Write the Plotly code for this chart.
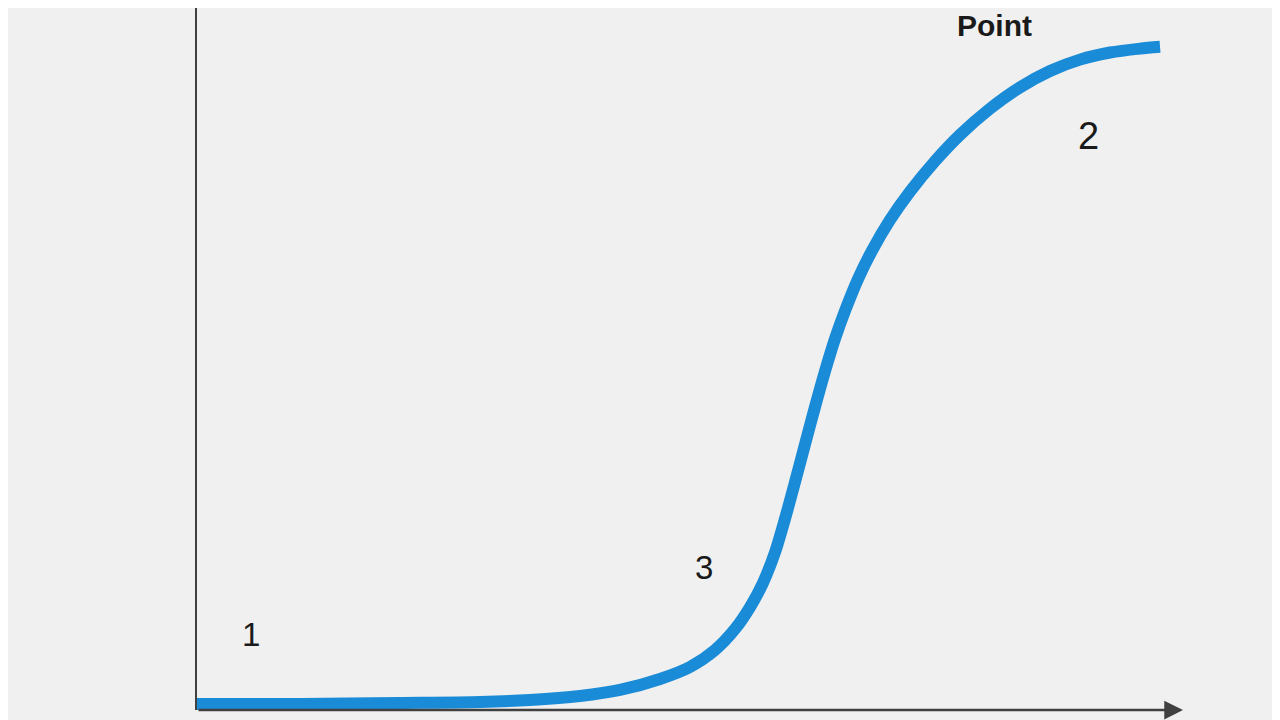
import plotly.graph_objects as go

# S-curve (x and y in 0-100 axis units)
curve_x = [0, 10.45, 20.59, 28.70, 33.77, 38.84, 42.90, 46.96, 50.00, 52.54,
           54.56, 56.09, 57.40, 58.62, 59.63, 60.65, 61.66, 62.68, 63.69, 64.71,
           65.72, 67.04, 68.46, 70.28, 72.31, 74.85, 77.38, 80.43, 83.47, 86.51,
           89.55, 92.60, 95.64, 97.67]
curve_y = [0.85, 0.85, 0.99, 1.13, 1.41, 1.97, 2.82, 4.37, 6.06, 8.45,
           11.4, 14.5, 17.9, 22.2, 26.9, 32.11, 37.4, 42.7, 47.7, 52.3,
           56.2, 60.7, 64.7, 69.0, 73.0, 77.3, 81.0, 84.7, 87.7, 90.0,
           91.6, 92.6, 93.15, 93.4]

# text labels on the chart
label_text = ["1", "3", "2"]
label_x = [5.5, 51.4, 90.4]
label_y = [10.6, 20.1, 80.8]
label_size = [33, 33, 38]

fig = go.Figure()

fig.add_trace(go.Scatter(
    x=curve_x, y=curve_y,
    mode="lines",
    line=dict(color="#1a8bd6", width=12, shape="spline", smoothing=0.8),
    hoverinfo="skip",
    showlegend=False,
))

for t, x, y, s in zip(label_text, label_x, label_y, label_size):
    fig.add_annotation(x=x, y=y, text=t, showarrow=False,
                       font=dict(family="Liberation Sans", size=s, color="#1a1a1a"))

# title text at the top edge, kept fully inside the page
fig.add_annotation(x=80.9, y=98.87, yanchor="top", text="<b>Point</b>", showarrow=False,
                   borderpad=0,
                   font=dict(family="Liberation Sans", size=30, color="#1a1a1a"))

# x axis drawn as an arrow
fig.add_annotation(x=100, y=0, ax=0, ay=0, xref="x", yref="y", axref="x", ayref="y",
                   text="", showarrow=True, arrowhead=2, arrowsize=1.5,
                   arrowwidth=2.5, arrowcolor="#404040")

# page has an 8px offset, so margins are shifted to line up
fig.update_layout(
    width=1280, height=720,
    margin=dict(l=189, r=105, t=0, b=18),
    paper_bgcolor="#f0f0f0",
    plot_bgcolor="#f0f0f0",
    xaxis=dict(range=[0, 100], showgrid=False, zeroline=False,
               showticklabels=False, ticks="", showline=False),
    yaxis=dict(range=[0, 98.87], showgrid=False, zeroline=False,
               showticklabels=False, ticks="", showline=True,
               linecolor="#404040", linewidth=2),
)

fig.write_html("out.html")
